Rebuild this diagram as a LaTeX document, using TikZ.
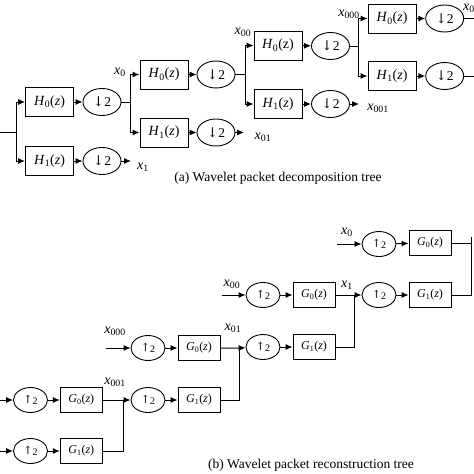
\documentclass[tikz,border=0pt]{standalone}
\usepackage{fontspec}
\setmainfont{Liberation Serif}
\newfontfamily\arrfont{DejaVu Serif}
\usetikzlibrary{arrows.meta, shapes.geometric}

\newcommand{\hz}[2]{\textit{#1}\textsubscript{#2}(\textit{z})}
\newcommand{\xs}[1]{\textit{x}\textsubscript{#1}}
\newcommand{\dn}{{\arrfont ↓}2}
\newcommand{\up}{{\arrfont ↑}\raisebox{-1pt}{\fontsize{10}{12}\selectfont 2}}

\tikzset{
  filt/.style={draw, line width=0.9pt, minimum width=48, minimum height=29, inner sep=0pt, font=\fontsize{14}{16}\selectfont},
  gfilt/.style={draw, line width=0.9pt, minimum width=42, minimum height=25, inner sep=0pt, font=\fontsize{12}{14}\selectfont},
  dsamp/.style={draw, ellipse, line width=0.9pt, minimum width=38, minimum height=27, inner sep=0pt, font=\fontsize{13.5}{15}\selectfont},
  usamp/.style={draw, ellipse, line width=0.9pt, minimum width=34, minimum height=25, inner sep=0pt, font=\fontsize{11}{13}\selectfont},
  sig/.style={-{Latex[length=7pt,width=6pt]}, line width=1pt},
  wire/.style={line width=1pt},
  lbl/.style={font=\fontsize{14}{16}\selectfont, inner sep=0pt},
  capt/.style={font=\fontsize{13.5}{16}\selectfont, inner sep=0pt}
}

\begin{document}
\begin{tikzpicture}[x=1pt, y=-1pt]
\useasboundingbox (0,0) rectangle (474,474);

% (a) decomposition, level 1
\coordinate (in) at (0,132);
\coordinate (j1) at (16,132);
\node[filt] (h0a) at (49.5,102) {\hz{H}{0}};
\node[dsamp] (d0a) at (102,102) {\dn};
\node[filt] (h1a) at (49.5,161) {\hz{H}{1}};
\node[dsamp] (d1a) at (102,161) {\dn};
\coordinate (o1a) at (131,161);
\node[lbl] (x1) at (143,167) {\xs{1}};
\draw[wire] (in) -- (j1);
\draw[sig] (j1) |- (h0a);
\draw[sig] (j1) |- (h1a);
\draw[sig] (h0a) -- (d0a);
\draw[sig] (h1a) -- (d1a);
\draw[sig] (d1a) -- (o1a);

% level 2
\coordinate (j2) at (130,102);
\node[lbl] (x0) at (120,72) {\xs{0}};
\node[filt] (h0b) at (164,74.5) {\hz{H}{0}};
\node[dsamp] (d0b) at (216,74.5) {\dn};
\node[filt] (h1b) at (164,132.5) {\hz{H}{1}};
\node[dsamp] (d1b) at (216,132.5) {\dn};
\coordinate (o1b) at (244,132.5);
\node[lbl] (x01) at (263,137) {\xs{01}};
\draw[wire] (d0a) -- (j2);
\draw[sig] (j2) |- (h0b);
\draw[sig] (j2) |- (h1b);
\draw[sig] (h0b) -- (d0b);
\draw[sig] (h1b) -- (d1b);
\draw[sig] (d1b) -- (o1b);

% level 3
\coordinate (j3) at (245,74.5);
\node[lbl] (x00) at (243,32) {\xs{00}};
\node[filt] (h0c) at (278,45.5) {\textit{H}\textsubscript{0}(z)};
\node[dsamp] (d0c) at (330.5,46) {\dn};
\node[filt] (h1c) at (278,104) {\hz{H}{1}};
\node[dsamp] (d1c) at (330.5,104) {\dn};
\coordinate (o1c) at (359,104);
\node[lbl] (x001) at (378,108) {\xs{001}};
\draw[wire] (d0b) -- (j3);
\draw[sig] (j3) |- (h0c);
\draw[sig] (j3) |- (h1c);
\draw[sig] (h0c) -- (d0c);
\draw[sig] (h1c) -- (d1c);
\draw[sig] (d1c) -- (o1c);

% level 4
\coordinate (j4) at (358,46);
\node[lbl] (x000) at (349,14) {\xs{000}};
\node[filt] (h0d) at (392,18.5) {\hz{H}{0}};
\node[dsamp] (d0d) at (444.7,18.5) {\dn};
\node[filt] (h1d) at (392,76) {\hz{H}{1}};
\node[dsamp] (d1d) at (444.7,76) {\dn};
\coordinate (o0d) at (480,18.5);
\coordinate (o1d) at (480,76);
\node[lbl, anchor=west] (x0000) at (463,8) {\xs{0000}};
\draw[wire] (d0c) -- (j4);
\draw[sig] (j4) |- (h0d);
\draw[sig] (j4) |- (h1d);
\draw[sig] (h0d) -- (d0d);
\draw[sig] (h1d) -- (d1d);
\draw[wire] (d0d) -- (o0d);
\draw[wire] (d1d) -- (o1d);

\node[capt] (capa) at (278,178) {(a) Wavelet packet decomposition tree};

% (b) reconstruction, level 1
\node[lbl] (y0) at (347,232) {\xs{0}};
\coordinate (i0a) at (337,244);
\node[usamp] (u0a) at (379,244) {\up};
\node[gfilt] (g0a) at (430,243) {\hz{G}{0}};
\node[lbl] (y1) at (347,285) {\xs{1}};
\coordinate (jB) at (354,295);
\node[usamp] (u1a) at (379,295) {\up};
\node[gfilt] (g1a) at (430,295) {\hz{G}{1}};
\coordinate (oA) at (471,243);
\coordinate (oB) at (471,237);
\draw[sig] (i0a) -- (u0a);
\draw[sig] (u0a) -- (g0a);
\draw[wire] (g0a) -- (oA);
\draw[sig] (u1a) -- (g1a);
\draw[wire] (g1a.east) -| (oB);

% level 2
\node[lbl] (y00) at (232,284) {\xs{00}};
\coordinate (i0b) at (222,295);
\node[usamp] (u0b) at (263,295) {\up};
\node[gfilt] (g0b) at (314,295) {\hz{G}{0}};
\node[lbl] (y01) at (233,328) {\xs{01}};
\coordinate (jC) at (239,347);
\node[usamp] (u1b) at (263,347) {\up};
\node[gfilt] (g1b) at (314,347) {\hz{G}{1}};
\draw[sig] (i0b) -- (u0b);
\draw[sig] (u0b) -- (g0b);
\draw[sig] (g0b) -- (u1a);
\draw[sig] (u1b) -- (g1b);
\draw[wire] (g1b.east) -| (jB);

% level 3
\node[lbl] (y000) at (115,331) {\xs{000}};
\coordinate (i0c) at (106,348);
\node[usamp] (u0c) at (148,348) {\up};
\node[gfilt] (g0c) at (199,348) {\hz{G}{0}};
\node[lbl] (y001) at (115,382) {\xs{001}};
\coordinate (jD) at (123,400);
\node[usamp] (u1c) at (148,400) {\up};
\node[gfilt] (g1c) at (199,400) {\hz{G}{1}};
\draw[sig] (i0c) -- (u0c);
\draw[sig] (u0c) -- (g0c);
\draw[sig] (g0c.east) -- (jC |- g0c) -- (u1b);
\draw[sig] (u1c) -- (g1c);
\draw[wire] (g1c.east) -| (jC);

% level 4
\coordinate (i0d) at (0,400);
\node[usamp] (u0d) at (30.5,400) {\up};
\node[gfilt] (g0d) at (81.3,400) {\hz{G}{0}};
\coordinate (i1d) at (0,451);
\node[usamp] (u1d) at (30.5,451) {\up};
\node[gfilt] (g1d) at (81.3,451) {\hz{G}{1}};
\draw[sig] (i0d) -- (u0d);
\draw[sig] (u0d) -- (g0d);
\draw[sig] (g0d) -- (u1c);
\draw[sig] (i1d) -- (u1d);
\draw[sig] (u1d) -- (g1d);
\draw[wire] (g1d.east) -| (jD);

\node[capt] (capb) at (311,465) {(b) Wavelet packet reconstruction tree};
\end{tikzpicture}
\end{document}
